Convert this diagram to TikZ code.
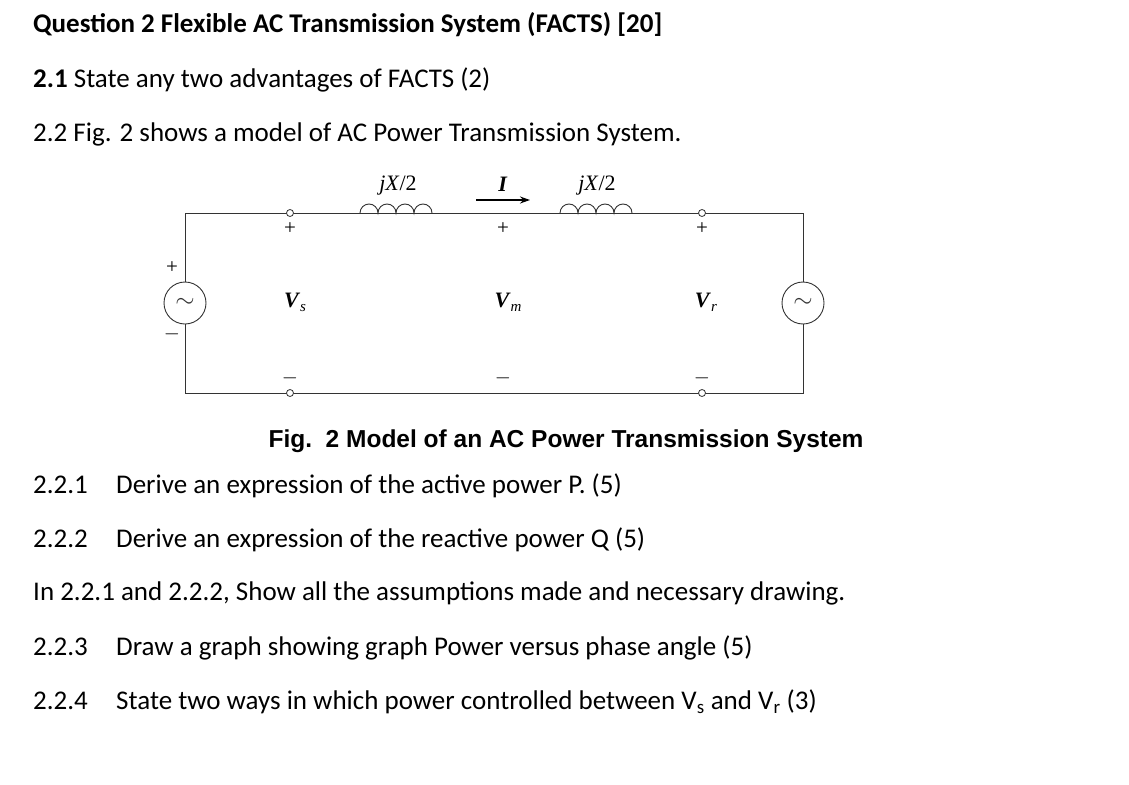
\documentclass[tikz,border=0pt]{standalone}
\usepackage{fontspec}
\setmainfont{Carlito}
\newfontfamily\arialf{Liberation Sans}
\newfontfamily\timesf{Liberation Serif}
\usetikzlibrary{arrows.meta}
\newcommand{\numbox}[1]{\makebox[83pt][l]{#1}}
\begin{document}
\begin{tikzpicture}[x=1pt,y=-1pt,
  txt/.style={anchor=west,inner sep=0pt,font=\fontsize{27}{30}\selectfont},
  ckt/.style={inner sep=0pt,font=\timesf\fontsize{22}{24}\selectfont},
  sgn/.style={inner sep=0pt,font=\timesf\fontsize{21}{22}\selectfont},
  wire/.style={line width=0.9pt,black!80},
  term/.style={circle,draw,black!80,line width=0.8pt,fill=white,inner sep=0pt,minimum size=7pt},
  src/.style={circle,draw,black!80,line width=0.9pt,fill=white,minimum size=42pt,inner sep=0pt}]
\useasboundingbox (0,0) rectangle (1129,784);
\node[txt,font=\bfseries\fontsize{27}{30}\selectfont] (t1) at (33,25) {Question 2 Flexible AC Transmission System (FACTS) [20]};
\node[txt] (t2) at (33,80) {\textbf{2.1} State any two advantages of FACTS (2)};
\node[txt] (t3) at (33,134) {2.2 Fig. 2 shows a model of AC Power Transmission System.};
% circuit
\coordinate (tl) at (185,213); \coordinate (tr) at (803,213);
\coordinate (bl) at (185,393); \coordinate (br) at (803,393);
\coordinate (l1a) at (360,213); \coordinate (l1b) at (432,213);
\coordinate (l2a) at (560,213); \coordinate (l2b) at (632,213);
\draw[wire] (l1b) -- (l2a);
\draw[wire] (tl) -- (l1a); \draw[wire] (l2b) -- (tr);
\draw[wire] (l1a) arc(180:360:9) arc(180:360:9) arc(180:360:9) arc(180:360:9);
\draw[wire] (l2a) arc(180:360:9) arc(180:360:9) arc(180:360:9) arc(180:360:9);
\draw[wire] (tl) -- (bl) -- (br) -- (tr) -- cycle;
\node[src] (s1) at (185,303) {\timesf\fontsize{34}{34}\selectfont$\sim$};
\node[src] (s2) at (803,303) {\timesf\fontsize{34}{34}\selectfont$\sim$};
\node[term] (a1) at (290,213) {}; \node[term] (a2) at (290,393) {};
\node[term] (b1) at (702,213) {}; \node[term] (b2) at (702,393) {};
\node[ckt] (x1) at (398,186) {\textit{jX}/2};
\node[ckt] (x2) at (597,186) {\textit{jX}/2};
\node[ckt] (iL) at (503,184) {\textbf{\textit{I}}};
\coordinate (ia) at (476,200); \coordinate (ib) at (530,200);
\draw[line width=1.8pt,-{Stealth[length=10pt,width=7pt]}] (ia) -- (ib);
\foreach \x/\n in {290/a,503/b,702/c}{
  \node[sgn] (p\n) at (\x,229) {+};
  \node[sgn] (m\n) at (\x,378) {$-$};}
\node[sgn] (ps) at (172,268) {+};
\node[sgn] (ms) at (172,334) {$-$};
\node[ckt] (vs) at (295,302) {\textbf{\textit{V}}\raisebox{-4pt}{\fontsize{15}{15}\selectfont\textit{s}}};
\node[ckt] (vm) at (508,302) {\textbf{\textit{V}}\raisebox{-4pt}{\fontsize{15}{15}\selectfont\textit{m}}};
\node[ckt] (vr) at (706,302) {\textbf{\textit{V}}\raisebox{-4pt}{\fontsize{15}{15}\selectfont\textit{r}}};
\node[inner sep=0pt,font=\arialf\bfseries\fontsize{24.5}{27}\selectfont] (cap) at (566,441) {Fig.\ \ 2 Model of an AC Power Transmission System};
\node[txt] (u1) at (33,486) {\numbox{2.2.1}Derive an expression of the active power P. (5)};
\node[txt] (u2) at (33,540) {\numbox{2.2.2}Derive an expression of the reactive power Q (5)};
\node[txt] (u3) at (33,593) {In 2.2.1 and 2.2.2, Show all the assumptions made and necessary drawing.};
\node[txt] (u4) at (33,648) {\numbox{2.2.3}Draw a graph showing graph Power versus phase angle (5)};
\node[txt] (u5) at (33,702) {\numbox{2.2.4}State two ways in which power controlled between V\textsubscript{s} and V\textsubscript{r} (3)};
\end{tikzpicture}
\end{document}
